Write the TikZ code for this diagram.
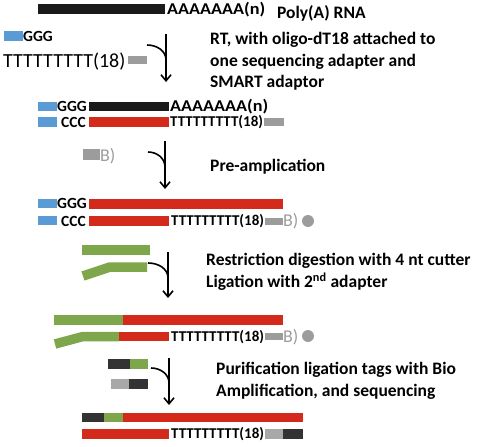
\documentclass[tikz,border=0pt]{standalone}
\usepackage{fontspec}
\setmainfont{Carlito}
\usetikzlibrary{arrows.meta}
\definecolor{rnablack}{HTML}{1A1A1A}
\definecolor{adapterblue}{HTML}{5B9BD5}
\definecolor{cdnared}{HTML}{D42A1C}
\definecolor{adaptergreen}{HTML}{7EA64A}
\definecolor{tagpale}{HTML}{9C9C9C}
\definecolor{tagdark}{HTML}{333333}
\definecolor{taglight}{HTML}{A8A8A8}
\begin{document}
\begin{tikzpicture}[x=1pt, y=-1pt,
    seq_style/.style={anchor=west, inner sep=0pt, font=\bfseries\fontsize{15.5}{18}\selectfont},
    polya_style/.style={anchor=west, inner sep=0pt, font=\bfseries\fontsize{16.5}{20}\selectfont\addfontfeature{FakeStretch=1.1}},
    tail_style/.style={anchor=west, inner sep=0pt, font=\bfseries\fontsize{15}{18}\selectfont},
    big_seq_style/.style={anchor=west, inner sep=0pt, font=\fontsize{20}{24}\selectfont},
    bio_style/.style={anchor=west, inner sep=0pt, text=tagpale, font=\fontsize{18}{20}\selectfont},
    label_style/.style={anchor=west, align=left, inner sep=0pt, font=\bfseries\fontsize{17.5}{21.5}\selectfont},
    arrow_style/.style={draw=black, line width=1.6pt, -{Straight Barb[length=6pt,width=10pt]}},
    hook_style/.style={draw=black, line width=1.6pt},
    bent_style/.style={draw=adaptergreen, line width=9.5pt}]

    \useasboundingbox (0,0) rectangle (480,447);

    % poly(A) RNA
    \fill[rnablack] (38,4) rectangle (165,14);
    \node[polya_style] (polyA) at (167,9.5) {AAAAAAA(n)};
    \node[label_style] (rnaLabel) at (277,13) {Poly(A) RNA};

    % RT primers
    \fill[adapterblue] (4,31) rectangle (23,41);
    \node[seq_style] (ggg1) at (23,36.5) {GGG};
    \node[big_seq_style] (oligoT1) at (3,62) {TTTTTTTTT(18)};
    \fill[tagpale] (128,56) rectangle (147,64);

    \coordinate (a1top) at (166,34);
    \coordinate (a1end) at (166,82);
    \coordinate (a1hook) at (147,45);
    \coordinate (a1join) at (166,60);
    \draw[arrow_style] (a1top) -- (a1end);
    \draw[hook_style] (a1hook) to[out=0,in=90] (a1join);
    \node[label_style] (rtLabel) at (210,61.5) {RT, with oligo-dT18 attached to\\one sequencing adapter and\\SMART adaptor};

    % first strand
    \fill[adapterblue] (38,102) rectangle (57,111);
    \node[seq_style] (ggg2) at (57,106.5) {GGG};
    \fill[rnablack] (89,102) rectangle (169,111);
    \node[polya_style] (polyA2) at (170,106.5) {AAAAAAA(n)};
    \fill[adapterblue] (38,117) rectangle (57,127);
    \node[seq_style] (ccc2) at (61,122) {CCC};
    \fill[cdnared] (89,117) rectangle (169,127);
    \node[tail_style] (oligoT2) at (170,122) {TTTTTTTTT(18)};
    \fill[tagpale] (264,118) rectangle (284,126);

    % biotin primer
    \fill[tagpale] (83,149) rectangle (100,160);
    \node[bio_style] (bio1) at (100,156) {B)};

    \coordinate (a2top) at (165,141);
    \coordinate (a2end) at (165,189);
    \coordinate (a2hook) at (148,152);
    \coordinate (a2join) at (165,167);
    \draw[arrow_style] (a2top) -- (a2end);
    \draw[hook_style] (a2hook) to[out=0,in=90] (a2join);
    \node[label_style] (preLabel) at (210,167) {Pre-amplication};

    % pre-amplified cDNA
    \fill[adapterblue] (38,199) rectangle (57,208);
    \node[seq_style] (ggg3) at (57,203.5) {GGG};
    \fill[cdnared] (89,199) rectangle (283,209);
    \fill[adapterblue] (38,216) rectangle (57,225);
    \node[seq_style] (ccc3) at (61,221) {CCC};
    \fill[cdnared] (89,216) rectangle (169,226);
    \node[tail_style] (oligoT3) at (171,221) {TTTTTTTTT(18)};
    \fill[tagpale] (265,218) rectangle (283,225);
    \node[bio_style] (bio3) at (283,221) {B)};
    \fill[tagpale] (308,221) circle (6);

    % second adapter
    \fill[adaptergreen] (82,245) rectangle (150,255);
    \draw[bent_style] (83,276) -- (110,267) -- (147,267);

    \coordinate (a3top) at (168,252);
    \coordinate (a3end) at (168,298);
    \coordinate (a3hook) at (148,263);
    \coordinate (a3join) at (168,278);
    \draw[arrow_style] (a3top) -- (a3end);
    \draw[hook_style] (a3hook) to[out=0,in=90] (a3join);
    \node[label_style] (digestLabel) at (206,272) {Restriction digestion with 4 nt cutter\\Ligation with 2\textsuperscript{nd} adapter};

    % ligated fragment
    \fill[adaptergreen] (54,315) rectangle (123,325);
    \fill[cdnared] (123,315) rectangle (283,325);
    \draw[bent_style] (55,344) -- (83,336.5) -- (119,336.5);
    \fill[cdnared] (119,332) rectangle (169,341);
    \node[tail_style] (oligoT4) at (171,337) {TTTTTTTTT(18)};
    \fill[tagpale] (265,333) rectangle (283,340);
    \node[bio_style] (bio4) at (283,337) {B)};
    \fill[tagpale] (308,336) circle (6);

    % sequencing tags
    \fill[tagdark] (108,359) rectangle (130,369);
    \fill[adaptergreen] (130,359) rectangle (148,369);
    \fill[taglight] (111,379) rectangle (129,389);
    \fill[tagdark] (129,379) rectangle (148,389);

    \coordinate (a4top) at (169,358);
    \coordinate (a4end) at (169,405);
    \coordinate (a4hook) at (151,368);
    \coordinate (a4join) at (169,383);
    \draw[arrow_style] (a4top) -- (a4end);
    \draw[hook_style] (a4hook) to[out=0,in=90] (a4join);
    \node[label_style] (purifyLabel) at (216,381) {Purification ligation tags with Bio\\Amplification, and sequencing};

    % library
    \fill[tagdark] (82,413) rectangle (104,422);
    \fill[adaptergreen] (104,413) rectangle (123,422);
    \fill[cdnared] (123,413) rectangle (303,422);
    \fill[cdnared] (82,429) rectangle (169,439);
    \node[tail_style] (oligoT5) at (171,434) {TTTTTTTTT(18)};
    \fill[taglight] (265,429) rectangle (283,439);
    \fill[tagdark] (283,429) rectangle (303,439);
\end{tikzpicture}
\end{document}
